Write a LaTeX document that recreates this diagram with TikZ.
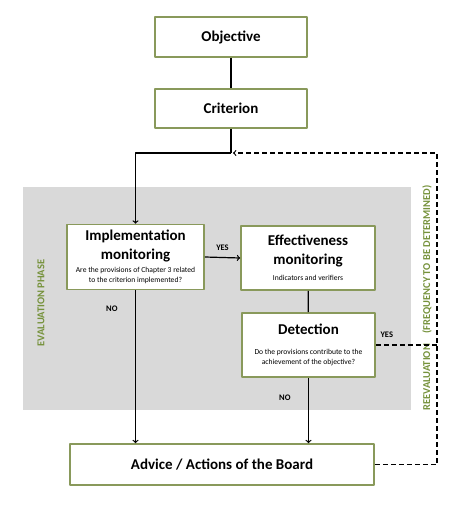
\documentclass[tikz,border=0pt]{standalone}
\usepackage{fontspec}
\setmainfont{Carlito}
\definecolor{boxline}{RGB}{137,153,91}
\definecolor{phasegray}{RGB}{217,217,217}
\definecolor{labelgreen}{RGB}{118,146,60}
\newcommand{\smallnote}{\fontsize{7.6}{10}\selectfont\mdseries}
\begin{document}
\begin{tikzpicture}[x=1pt, y=-1pt, line join=round, >=to,
	stage/.style={draw=boxline, line width=1.6pt, fill=white, inner sep=0pt, align=center, font=\fontsize{15}{19}\selectfont\bfseries},
	flow/.style={line width=1.2pt},
	loop/.style={line width=1.2pt, dash pattern=on 5pt off 3pt},
	answer/.style={font=\fontsize{8.5}{9}\selectfont\bfseries},
	side/.style={font=\fontsize{10.5}{11}\selectfont\bfseries, text=labelgreen, rotate=90}]
	\useasboundingbox (0,0) rectangle (474,513);
	% evaluation phase
	\fill[phasegray] (23,187) rectangle (411,410);
	\node[side] (phase) at (41,303) {EVALUATION PHASE};
	\node[side] (reeval) at (427,298) {REEVALUATION\quad(FREQUENCY TO BE DETERMINED)};
	% boxes
	\node[stage, minimum width=152pt, minimum height=40pt] (obj) at (231,37) {Objective};
	\node[stage, minimum width=152pt, minimum height=39pt] (crit) at (231,108.5) {Criterion};
	\node[stage, minimum width=137pt, minimum height=65pt] (impl) at (135.5,257) {Implementation\\monitoring\\[-6pt]{\smallnote Are the provisions of Chapter 3 related}\\[-9pt]{\smallnote to the criterion implemented?}};
	\node[stage, minimum width=134pt, minimum height=64pt] (eff) at (308,258) {Effectiveness\\monitoring\\[-3pt]{\smallnote Indicators and verifiers}};
	\node[stage, minimum width=133pt, minimum height=64pt] (det) at (308.5,345) {Detection\\[1pt]{\smallnote Do the provisions contribute to the}\\[-9pt]{\smallnote achievement of the objective?}};
	\node[stage, minimum width=304pt, minimum height=41pt] (adv) at (222,464.5) {Advice / Actions of the Board};
	% connectors
	\coordinate (join) at (231,153);
	\coordinate (back) at (437,153);
	\coordinate (low) at (437,464.5);
	\draw[flow] (obj)--(crit);
	\draw[flow] (crit.south)--(join);
	\draw[flow,->] (join)-|(impl.north);
	\draw[flow,->] (impl.east)--(eff.west) node[answer, midway, above=3pt] {YES};
	\draw[flow] (eff)--(det);
	\draw[flow,->] (impl.south)--(impl.south|-adv.north) node[answer, pos=0.12, left=14pt] {NO};
	\draw[flow,->] (det.south)--(det.south|-adv.north) node[answer, pos=0.3, left=14pt] {NO};
	\draw[loop,->] (adv.east)--(low)--(back)--([xshift=2pt]join);
	\draw[loop] (det.east)--(det.east-|low) node[answer, pos=0.18, above=4pt] {YES};
\end{tikzpicture}
\end{document}
